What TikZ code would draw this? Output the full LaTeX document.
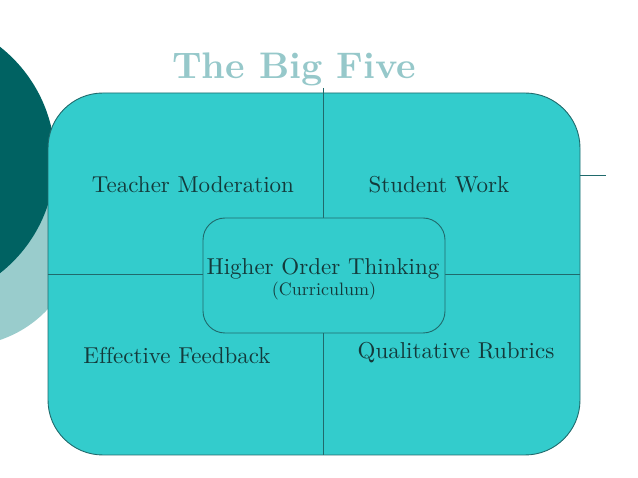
\documentclass[tikz,border=0pt]{standalone}
\usepackage{fontspec}
\setmainfont{lmroman10-regular.otf}[BoldFont=lmroman10-bold.otf, Ligatures=NoCommon]
\usepackage{xcolor}
\usepackage{tikz}
\usetikzlibrary{positioning}

\definecolor{deepteal}{HTML}{006262}
\definecolor{paleteal}{HTML}{99CCCC}
\definecolor{titleteal}{HTML}{96C8CA}
\definecolor{boxteal}{HTML}{33CCCC}
\definecolor{edgeteal}{HTML}{206A6C}
\definecolor{inkteal}{HTML}{143A3B}

\begin{document}
\begin{tikzpicture}[x=1pt, y=-1pt,
  panel/.style={draw=edgeteal, fill=boxteal, line width=0.9pt, inner sep=0pt},
  quad/.style={text=inkteal, font=\fontsize{23}{27}\selectfont, anchor=base},
  divider/.style={draw=edgeteal, line width=0.9pt}
]
  \useasboundingbox (0,0) rectangle (638,478);

  % circles at the left edge
  \fill[paleteal] (-37,230) circle (116pt);
  \fill[deepteal] (-89,160) circle (144pt);

  \node[font=\fontsize{37}{44}\selectfont\bfseries, text=titleteal, anchor=base]
    (title) at (294,79) {The Big Five};

  \node[panel, minimum width=532pt, minimum height=362pt, rounded corners=55pt]
    (board) at (314,274) {};

  % dividers
  \coordinate (split) at (323,88);
  \coordinate (tick) at (606,175);
  \draw[divider] (split) -- (split |- board.south);
  \draw[divider] (board.west) -- (board.east);
  \draw[divider] (tick -| board.east) -- (tick);

  \node[panel, minimum width=242pt, minimum height=115pt, rounded corners=22pt]
    (core) at (324,275.5) {};

  \node[quad] (hot)  at (323,275) {Higher Order Thinking};
  \node[quad, font=\fontsize{18}{22}\selectfont] (curr) at (324,296) {(Curriculum)};

  \node[quad] (teacher)  at (193,193) {Teacher Moderation};
  \node[quad] (student)  at (439,193) {Student Work};
  \node[quad] (feedback) at (177,364) {Effective Feedback};
  \node[quad] (rubrics)  at (456,359) {Qualitative Rubrics};
\end{tikzpicture}
\end{document}
